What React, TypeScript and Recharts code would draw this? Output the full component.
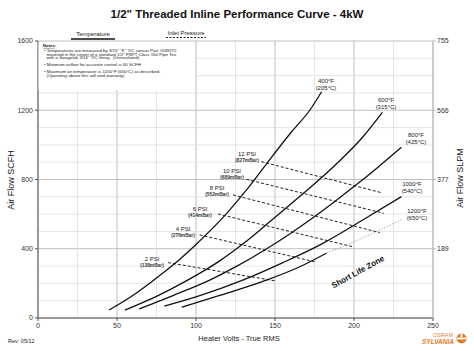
import { LineChart, Line, XAxis, YAxis, CartesianGrid, ReferenceLine } from 'recharts'

// axis ticks
const voltTicks = [0, 50, 100, 150, 200, 250]
const voltMinorTicks = [25, 75, 125, 175, 225]
const flowTicks = [0, 400, 800, 1200, 1600]
const flowMinorTicks = [100, 200, 300, 500, 600, 700, 900, 1000, 1100, 1300, 1400, 1500]
const slpmTicks = [400, 800, 1200, 1600]
const slpmLabels = ['189', '377', '566', '755']

// temperature curves, [heater volts, air flow SCFH]
const t400F = [[45, 46], [60, 130], [74, 224], [86, 310], [100, 425], [118, 590], [132, 740], [145, 895], [160, 1070], [172, 1200], [179.5, 1307]]
const t600F = [[55, 46], [75, 125], [95, 220], [115, 330], [130, 430], [148, 566], [168, 720], [190, 900], [205, 1040], [218, 1188]]
const t800F = [[64, 52], [85, 128], [109, 220], [125, 295], [143.5, 393], [160, 490], [172, 566], [186, 660], [200, 759], [215, 870], [230, 986]]
const t1000F = [[80, 69], [100, 122], [130, 220], [155, 320], [180, 430], [205, 563], [230, 701]]
const t1200F = [[91, 62], [115, 130], [145, 220], [165, 293], [182.5, 374]]
const t1200FOver = [[182.5, 374], [202.6, 451], [230.4, 570]]

// inlet pressure lines
const psi12 = [[141.4, 903], [217.3, 724]]
const psi10 = [[131.9, 801], [218.8, 605]]
const psi8 = [[123.4, 711], [216.3, 493]]
const psi6 = [[113.9, 601], [199.4, 411]]
const psi4 = [[102.3, 480], [175.1, 325]]
const psi2 = [[82.3, 320], [149.8, 215]]

const tempLabels = ['400°F', '600°F', '800°F', '1000°F', '1200°F']
const tempLabelsC = ['(205°C)', '(315°C)', '(425°C)', '(540°C)', '(650°C)']
const psiLabels = ['12 PSI', '10 PSI', '8 PSI', '6 PSI', '4 PSI', '2 PSI']
const mbarLabels = ['(827mBar)', '(689mBar)', '(552mBar)', '(414mBar)', '(276mBar)', '(138mBar)']

const notes = [
  '• Temperatures are measured by 3/16" "K" T/C sensor Part #039272',
  '  mounted in the center of a standard 1/2" FNPT Class 150 Pipe Tee',
  '  with a Swagelok 3/16" T/C fitting.  (Uninsulated)',
  '• Minimum airflow for accurate control is 60 SCFH',
  '• Maximum air temperature is 1200°F (650°C) as described.',
  '  (Operating above this will void warranty)',
]

const toPts = (pts: number[][]) => pts.map(([v, f]) => ({ v, f }))

const FONT = '"Liberation Sans", Arial, sans-serif'

// label placement (pixels)
const tempPos = [[326, 81], [386, 100], [416, 135], [412, 184], [417, 211]]
const psiPos = [[247, 154], [232, 171], [217, 188], [200, 209], [183, 229], [152, 259]]
const notesY = [52.3, 55.8, 59.4, 66, 73.4, 77]

export default function App() {
  const solid = (pts: number[][], key: string) => (
    <Line key={key} data={toPts(pts)} dataKey="f" type="monotone" stroke="#111" strokeWidth={1.3}
      dot={false} isAnimationActive={false} />
  )
  const dashed = (pts: number[][], key: string) => (
    <Line key={key} data={toPts(pts)} dataKey="f" type="linear" stroke="#222" strokeWidth={1}
      strokeDasharray="3 2" dot={false} isAnimationActive={false} />
  )

  return (
    <div style={{ position: 'absolute', left: 0, top: 0, width: 474, height: 351, background: '#fff', fontFamily: FONT }}>
      <LineChart width={474} height={351} margin={{ top: 41, right: 0, bottom: 0, left: 0 }}>
        {voltMinorTicks.map((v) => (
          <ReferenceLine key={'vx' + v} x={v} stroke="#dedede" strokeWidth={0.8} />
        ))}
        {flowMinorTicks.map((f) => (
          <ReferenceLine key={'hy' + f} y={f} stroke="#dedede" strokeWidth={0.8} />
        ))}
        <CartesianGrid stroke="#b8b8b8" strokeWidth={0.9} />
        <XAxis dataKey="v" type="number" domain={[0, 250]} ticks={voltTicks} height={33}
          tick={{ fontSize: 7, fill: '#333', fontFamily: FONT }} tickSize={3} tickMargin={2} stroke="#555" />
        <YAxis type="number" domain={[0, 1600]} ticks={flowTicks} width={38}
          tick={{ fontSize: 7, fill: '#333', fontFamily: FONT }} tickSize={3} tickMargin={2} stroke="#555" />
        <YAxis yAxisId="right" orientation="right" type="number" domain={[0, 1600]} ticks={slpmTicks} width={41}
          tickFormatter={(v: number) => slpmLabels[slpmTicks.indexOf(Number(v))] ?? ''}
          tick={{ fontSize: 7, fill: '#333', fontFamily: FONT }} tickSize={3} tickMargin={1} stroke="#b8b8b8" />
        {/* carries the SLPM axis (same flow, other unit) */}
        <Line yAxisId="right" data={toPts(t400F)} dataKey="f" stroke="none" dot={false} isAnimationActive={false} />
        {dashed(psi12, 'p12')}
        {dashed(psi10, 'p10')}
        {dashed(psi8, 'p8')}
        {dashed(psi6, 'p6')}
        {dashed(psi4, 'p4')}
        {dashed(psi2, 'p2')}
        {solid(t400F, 't400')}
        {solid(t600F, 't600')}
        {solid(t800F, 't800')}
        {solid(t1000F, 't1000')}
        {solid(t1200F, 't1200')}
        <Line data={toPts(t1200FOver)} dataKey="f" type="monotone" stroke="#999" strokeWidth={0.8}
          strokeDasharray="1.5 1.5" dot={false} isAnimationActive={false} />
      </LineChart>

      <svg width={474} height={351} style={{ position: 'absolute', left: 0, top: 0, pointerEvents: 'none' }}
        fontFamily={FONT}>
        <text x={237} y={14} textAnchor="middle" dominantBaseline="central" fontSize={11.5} fontWeight="bold" fill="#111">
          1/2" Threaded Inline Performance Curve - 4kW
        </text>

        {/* legend */}
        <text x={93} y={34} textAnchor="middle" dominantBaseline="central" fontSize={6} fill="#222">Temperature</text>
        <line x1={71} x2={115} y1={39} y2={39} stroke="#111" strokeWidth={1.3} />
        <text x={186} y={32.5} textAnchor="middle" dominantBaseline="central" fontSize={6} fill="#222">Inlet Pressure</text>
        <line x1={166} x2={206} y1={37.5} y2={37.5} stroke="#222" strokeWidth={1} strokeDasharray="2 1.5" />

        {/* notes box */}
        <rect x={38.5} y={42} width={156.5} height={48} fill="#fff" />
        <text x={42.7} y={47.3} fontSize={4.4} fontWeight="bold" fill="#222">Notes:</text>
        <line x1={42.7} x2={55} y1={48.3} y2={48.3} stroke="#222" strokeWidth={0.4} />
        {notes.map((n, i) => (
          <text key={i} x={44} y={notesY[i]} fontSize={4.4} fill="#222" style={{ whiteSpace: 'pre' }}>{n}</text>
        ))}

        {/* temperature labels */}
        {tempLabels.map((t, i) => (
          <g key={t}>
            <text x={tempPos[i][0]} y={tempPos[i][1]} textAnchor="middle" dominantBaseline="central" fontSize={6} fill="#222">{t}</text>
            <text x={tempPos[i][0]} y={tempPos[i][1] + 6.5} textAnchor="middle" dominantBaseline="central" fontSize={6} fill="#222">{tempLabelsC[i]}</text>
          </g>
        ))}

        {/* pressure labels */}
        {psiLabels.map((p, i) => (
          <g key={p}>
            <text x={psiPos[i][0]} y={psiPos[i][1]} textAnchor="middle" dominantBaseline="central" fontSize={6} fill="#222">{p}</text>
            <text x={psiPos[i][0]} y={psiPos[i][1] + 6.3} textAnchor="middle" dominantBaseline="central" fontSize={4.8} fontWeight="bold" fill="#333">{mbarLabels[i]}</text>
          </g>
        ))}

        <text x={358} y={272} textAnchor="middle" dominantBaseline="central" fontSize={8} fontWeight="bold" fill="#111"
          transform="rotate(-29 358 272)">Short Life Zone</text>

        {/* axis titles */}
        <text x={11} y={180} textAnchor="middle" dominantBaseline="central" fontSize={9} fill="#222"
          transform="rotate(-90 11 180)">Air Flow SCFH</text>
        <text x={460} y={178} textAnchor="middle" dominantBaseline="central" fontSize={9} fill="#222"
          transform="rotate(-90 460 178)">Air Flow SLPM</text>
        <text x={239} y={338} textAnchor="middle" dominantBaseline="central" fontSize={7.5} fill="#222">Heater Volts - True RMS</text>

        <text x={8} y={341} dominantBaseline="central" fontSize={5.5} fill="#222">Rev: 05/12</text>

        {/* logo */}
        <text x={453} y={335} textAnchor="end" dominantBaseline="central" fontSize={5.5} fill="#e07b28">OSRAM</text>
        <text x={454} y={341.5} textAnchor="end" dominantBaseline="central" fontSize={6.5} fontWeight="bold"
          fontStyle="italic" fill="#e07b28">SYLVANIA</text>
        <circle cx={461.5} cy={338.5} r={5} fill="#e07b28" />
        <rect x={457} y={337.6} width={9} height={1.8} fill="#fff" />
        <rect x={460.6} y={333.5} width={1.8} height={4} fill="#fff" />
      </svg>
    </div>
  )
}
